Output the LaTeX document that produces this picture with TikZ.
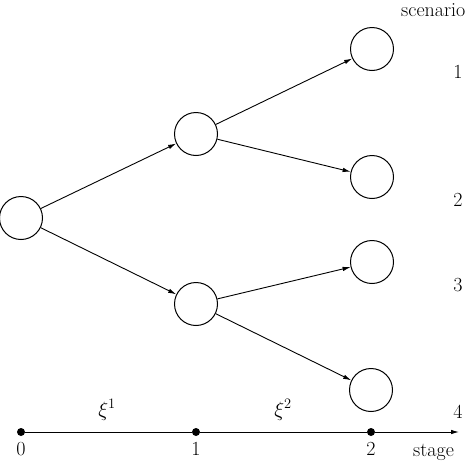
\documentclass[tikz,border=0pt]{standalone}
\usetikzlibrary{arrows.meta}
\begin{document}
\begin{tikzpicture}[x=1pt,y=-1pt,
  state/.style={circle,draw,line width=1pt,minimum size=43pt,inner sep=0pt},
  edge/.style={line width=0.9pt,-{Latex[length=8pt,width=4.5pt]}},
  lbl/.style={font=\fontsize{20}{24}\selectfont,inner sep=0pt},
  dot/.style={circle,fill,minimum size=8pt,inner sep=0pt}]
\useasboundingbox (0,0) rectangle (474,464);
\node[state] (r) at (21,218) {};
\node[state] (a) at (196,134) {};
\node[state] (b) at (196,304) {};
\node[state] (l1) at (372,49) {};
\node[state] (l2) at (372,177) {};
\node[state] (l3) at (372,262) {};
\node[state] (l4) at (371,390) {};
\draw[edge] (r) -- (a);
\draw[edge] (r) -- (b);
\draw[edge] (a) -- (l1);
\draw[edge] (a) -- (l2);
\draw[edge] (b) -- (l3);
\draw[edge] (b) -- (l4);
\node[lbl,anchor=base west] (sc) at (401,16) {scenario};
\node[lbl] (s1) at (458,72) {1};
\node[lbl] (s2) at (458,200) {2};
\node[lbl] (s3) at (458,285) {3};
\node[lbl] (s4) at (458,412) {4};
\node[dot] (d0) at (21,432) {};
\node[dot] (d1) at (196,432) {};
\node[dot] (d2) at (371,432) {};
\coordinate (end) at (459,432);
\draw[line width=0.9pt] (d0) -- (d1);
\draw[line width=0.9pt] (d1) -- (d2);
\draw[edge] (d2) -- (end);
\node[lbl] (t0) at (21,449) {0};
\node[lbl] (t1) at (196,449) {1};
\node[lbl] (t2) at (371,449) {2};
\node[lbl,anchor=base west] (st) at (413,456) {stage};
\node[lbl] (x1) at (107,410) {$\xi^1$};
\node[lbl] (x2) at (283,410) {$\xi^2$};
\end{tikzpicture}
\end{document}
